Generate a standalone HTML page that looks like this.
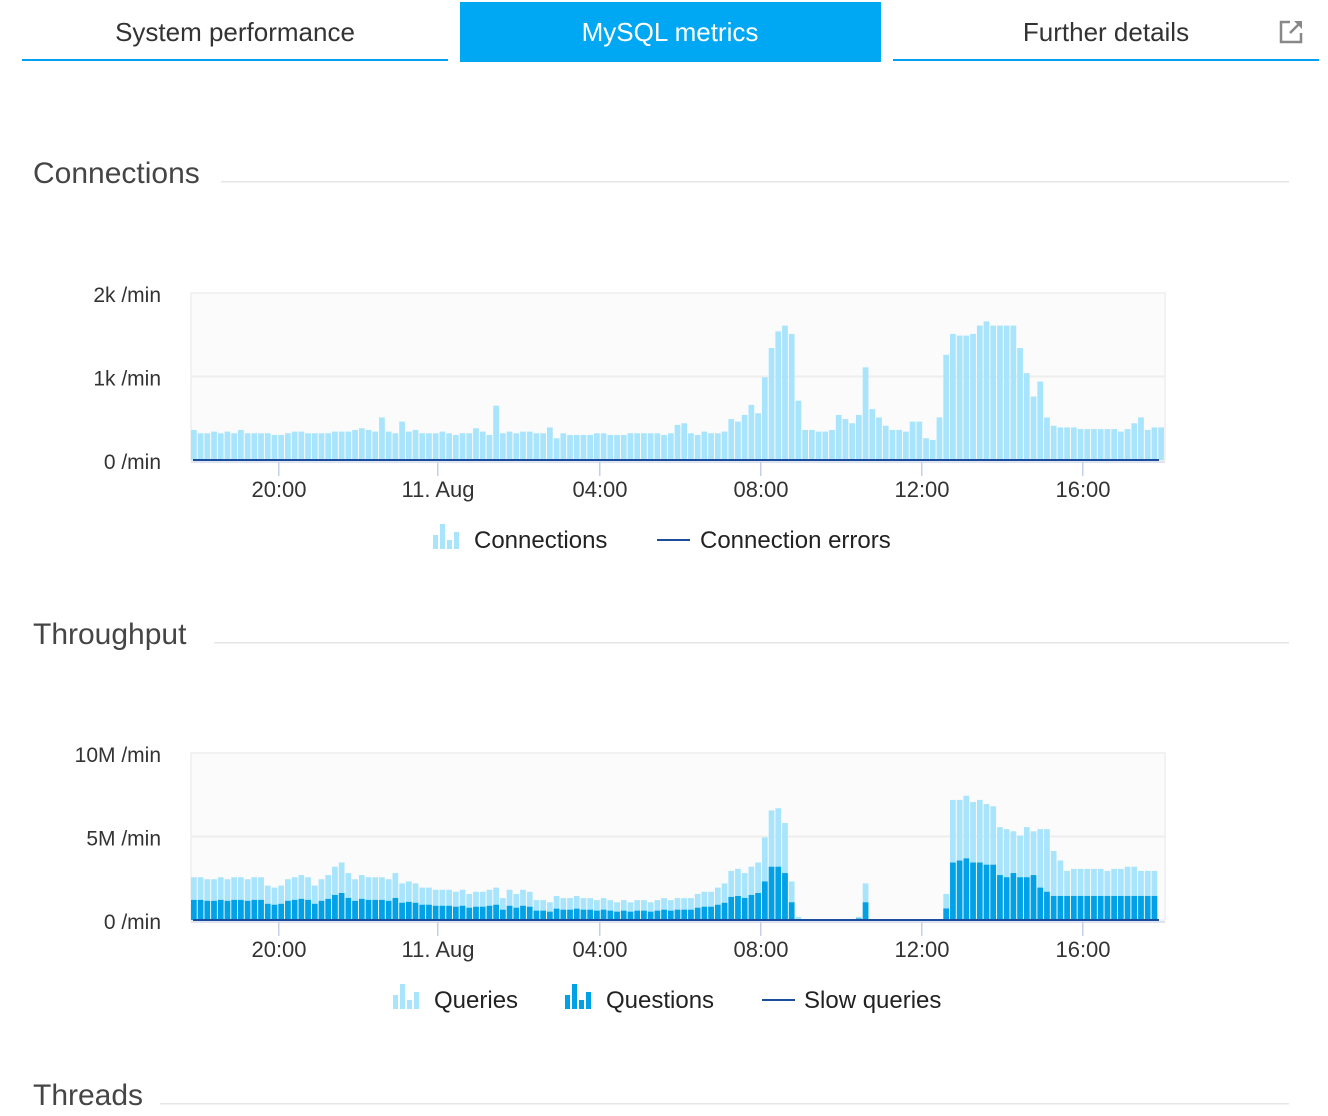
<!DOCTYPE html>
<html><head><meta charset="utf-8"><style>
html,body{margin:0;padding:0;background:#fff;}
svg{display:block;font-family:"Liberation Sans",sans-serif;}
</style></head><body>
<svg id="s" width="1328" height="1116" xmlns="http://www.w3.org/2000/svg">
<rect x="22" y="59" width="426" height="2" fill="#00a1f1"/>
<text x="235" y="41" font-size="26" fill="#333" text-anchor="middle">System performance</text>
<rect x="460" y="2" width="421" height="60" fill="#00a8f4"/>
<text x="670" y="41" font-size="26" fill="#fff" text-anchor="middle">MySQL metrics</text>
<rect x="893" y="59" width="426" height="2" fill="#00a1f1"/>
<text x="1106" y="41" font-size="26" fill="#333" text-anchor="middle">Further details</text>
<g fill="none" stroke="#888" stroke-width="2.5"><path d="M1290 22 h-9 v20 h20 v-9"/><path d="M1290 33 l10 -10"/></g>
<path d="M1294 21 h8 v8 z" fill="#888"/>
<text x="33" y="183" font-size="30" fill="#454545">Connections</text>
<rect x="221" y="181" width="1068" height="1.5" fill="#e6e6e6"/>
<text x="33" y="644" font-size="30" fill="#454545">Throughput</text>
<rect x="214" y="642" width="1075" height="1.5" fill="#e6e6e6"/>
<text x="33" y="1105" font-size="30" fill="#454545">Threads</text>
<rect x="160" y="1103" width="1129" height="1.5" fill="#e6e6e6"/>
<g id="c1"></g><g id="c2"></g>
<g fill="#a8e4fb"><rect x="433" y="535" width="5" height="14"/><rect x="440" y="524" width="5" height="25"/><rect x="447" y="540" width="5" height="9"/><rect x="454" y="532" width="5" height="17"/></g>
<text x="474" y="548" font-size="24" fill="#222">Connections</text>
<rect x="657" y="539" width="33" height="2" fill="#1b4d9c"/>
<text x="700" y="548" font-size="24" fill="#222">Connection errors</text>
<g fill="#a8e4fb"><rect x="393" y="995" width="5" height="14"/><rect x="400" y="984" width="5" height="25"/><rect x="407" y="1000" width="5" height="9"/><rect x="414" y="992" width="5" height="17"/></g>
<text x="434" y="1008" font-size="24" fill="#222">Queries</text>
<g fill="#00a1e6"><rect x="565" y="995" width="5" height="14"/><rect x="572" y="984" width="5" height="25"/><rect x="579" y="1000" width="5" height="9"/><rect x="586" y="992" width="5" height="17"/></g>
<text x="606" y="1008" font-size="24" fill="#222">Questions</text>
<rect x="762" y="999" width="33" height="2" fill="#1b4d9c"/>
<text x="804" y="1008" font-size="24" fill="#222">Slow queries</text>
</svg>
<script>
var NS="http://www.w3.org/2000/svg";
function el(p,t,a,txt){var e=document.createElementNS(NS,t);for(var k in a)e.setAttribute(k,a[k]);if(txt)e.textContent=txt;p.appendChild(e);return e;}
var conn=[.36,.32,.32,.34,.32,.34,.32,.36,.32,.32,.32,.32,.30,
.30,.32,.34,.34,.32,.32,.32,.32,.34,.34,.34,.36,
.38,.36,.34,.51,.34,.32,.46,.34,.36,.32,.32,.32,
.34,.32,.30,.32,.32,.38,.34,.30,.65,.32,.34,.32,
.34,.34,.32,.32,.39,.26,.32,.30,.30,.30,.30,.32,
.32,.30,.30,.30,.32,.32,.32,.32,.32,.30,.32,.42,
.44,.32,.30,.34,.32,.32,.34,.49,.46,.54,.66,.56,
.99,1.34,1.54,1.61,1.51,.71,.36,.36,.34,.34,.36,.54,
.49,.44,.54,1.11,.61,.51,.41,.36,.36,.34,.46,.46,
.26,.24,.51,1.26,1.51,1.49,1.49,1.51,1.61,1.66,1.61,1.61,
1.61,1.61,1.34,1.04,.76,.94,.51,.41,.39,.39,.39,.37,
.37,.37,.37,.37,.37,.34,.37,.44,.51,.36,.39,.39];
var q=[2.56,2.56,2.44,2.44,2.56,2.44,2.56,2.56,2.44,2.56,2.56,2.06,1.94,
2.06,2.44,2.56,2.69,2.56,2.06,2.44,2.69,3.19,3.44,2.81,2.44,
2.69,2.56,2.56,2.56,2.44,2.81,2.19,2.31,2.19,1.94,1.94,1.81,
1.81,1.81,1.69,1.81,1.56,1.69,1.69,1.81,1.94,1.31,1.81,1.56,
1.81,1.69,1.19,1.19,1.06,1.44,1.31,1.31,1.44,1.31,1.31,1.19,
1.31,1.19,1.06,1.19,1.06,1.19,1.19,1.06,1.19,1.31,1.19,1.31,
1.31,1.31,1.56,1.69,1.69,1.94,2.19,2.94,3.06,2.81,3.19,
3.44,4.94,6.56,6.69,5.81,2.31,0.19,0,0,0,0,0,0,0,0,0.19,2.19,
0,0,0,0,0,0,0,0,0,0,0.04,1.56,
7.19,7.19,7.44,7.06,7.19,6.94,6.81,5.56,5.44,5.31,5.06,5.56,5.31,5.44,5.44,4.13,3.56,
2.94,3.06,3.06,3.06,3.06,3.06,2.94,3.06,3.06,3.19,3.19,2.94,2.94,2.94];
var qs=[];for(var i=0;i<q.length;i++)qs.push(q[i]*0.47);
var ov={85:2.31,86:3.19,87:3.19,88:2.81,89:1.06,90:0,100:1.06,112:0.69,113:3.44,114:3.56,115:3.69,116:3.44,117:3.44,118:3.31,119:3.31,120:2.69,121:2.56,122:2.81,123:2.56,124:2.56,125:2.69,126:1.94,127:1.69};
for(var k in ov)qs[k]=ov[k];
for(i=128;i<q.length;i++)qs[i]=1.44;
function chart(g,top,bot,max,ticks,series){
 var L=191,R=1165,W=(R-L)/145,H=bot-top;
 el(g,"rect",{x:L,y:top,width:R-L,height:H,fill:"#fbfbfb",stroke:"#eeeeee","stroke-width":1.5});
 el(g,"rect",{x:L,y:top+H/2-1,width:R-L,height:2,fill:"#eeeeee"});
 for(var s=0;s<series.length;s++){var d=series[s].d;
  for(var i=0;i<d.length&&i<145;i++){var h=d[i]/max*H;if(h<=0)continue;
   el(g,"rect",{x:L+i*W,y:bot-h,width:W-1,height:h,fill:series[s].c});}}
 el(g,"rect",{x:L+2,y:bot-1,width:R-L-8,height:2,fill:"#1b4d9c"});
 el(g,"rect",{x:L,y:bot+1,width:R-L,height:2,fill:"#dde3f0"});
 var xs=[278,437,599,760,921,1082],lab=["20:00","11. Aug","04:00","08:00","12:00","16:00"];
 for(i=0;i<6;i++){el(g,"rect",{x:xs[i],y:bot+2,width:1.5,height:14,fill:"#c5cfe8"});
  el(g,"text",{x:xs[i]+1,y:bot+37,"font-size":22,fill:"#333","text-anchor":"middle"},lab[i]);}
 for(i=0;i<3;i++)el(g,"text",{x:161,y:[top,top+H/2,bot][i]+9,"font-size":21,fill:"#333","text-anchor":"end"},ticks[i]);
}
chart(document.getElementById("c1"),293,460,2,["2k /min","1k /min","0 /min"],[{d:conn,c:"#a8e4fb"}]);
chart(document.getElementById("c2"),753,920,10,["10M /min","5M /min","0 /min"],[{d:q,c:"#a8e4fb"},{d:qs,c:"#00a1e6"}]);
</script>
</body></html>
